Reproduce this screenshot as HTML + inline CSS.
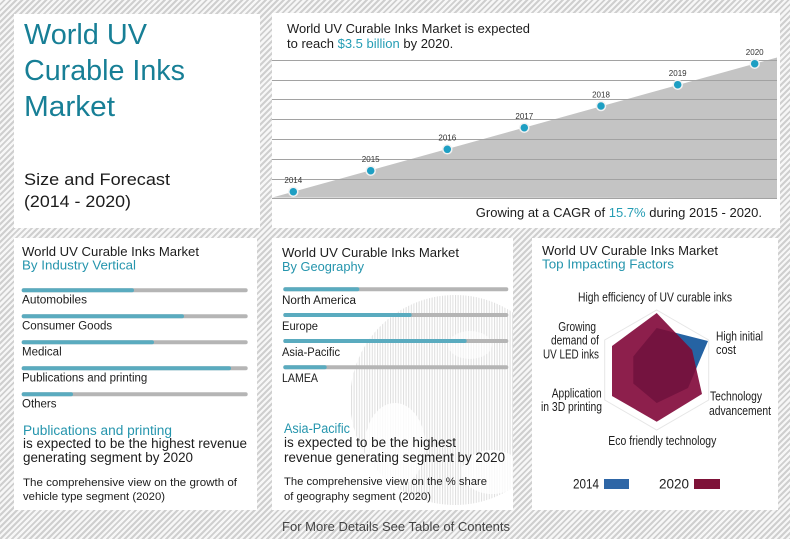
<!DOCTYPE html>
<html><head><meta charset="utf-8">
<style>
html,body{margin:0;padding:0;}
body{width:790px;height:539px;overflow:hidden;background:repeating-linear-gradient(135deg,#f7f7f7 0px,#f7f7f7 2.2px,#cfcfcf 2.2px,#cfcfcf 4.2px);}
svg{display:block;}
text{font-family:"Liberation Sans",sans-serif;}
</style></head>
<body>
<svg width="790" height="539" viewBox="0 0 790 539" xmlns="http://www.w3.org/2000/svg">
<defs>
  <pattern id="vstripe" width="2.6" height="10" patternUnits="userSpaceOnUse">
    <rect x="0" y="0" width="1" height="10" fill="#bdbdbd"/>
  </pattern>
  <clipPath id="p4clip"><rect x="272" y="238" width="241" height="272"/></clipPath>
  <clipPath id="redclip"><polygon points="656.7,313 692,350 702,394 656.7,421.7 612,396 612,346"/></clipPath>
</defs>

<!-- panels -->
<rect x="14" y="14" width="246" height="214" fill="#fff"/>
<rect x="272" y="13" width="508" height="215" fill="#fff"/>
<rect x="14" y="238" width="243" height="272" fill="#fff"/>
<rect x="272" y="238" width="241" height="272" fill="#fff"/>
<rect x="532" y="238" width="246" height="272" fill="#fff"/>

<!-- Panel 1 -->
<g fill="#177f96" font-size="29">
  <text x="24" y="44" textLength="123" lengthAdjust="spacingAndGlyphs">World UV</text>
  <text x="24" y="80" textLength="161" lengthAdjust="spacingAndGlyphs">Curable Inks</text>
  <text x="24" y="116" textLength="91" lengthAdjust="spacingAndGlyphs">Market</text>
</g>
<g fill="#1c1c1c" font-size="17">
  <text x="24" y="185" textLength="146" lengthAdjust="spacingAndGlyphs">Size and Forecast</text>
  <text x="24" y="207" textLength="107" lengthAdjust="spacingAndGlyphs">(2014 - 2020)</text>
</g>

<!-- Panel 2 chart -->
<polygon points="272,197.6 777,57.5 777,198" fill="#c4c4c4"/>
<g stroke="#a2a2a2" stroke-width="1">
  <line x1="272" y1="60.5" x2="777" y2="60.5"/>
  <line x1="272" y1="80.5" x2="777" y2="80.5"/>
  <line x1="272" y1="99.5" x2="777" y2="99.5"/>
  <line x1="272" y1="119.5" x2="777" y2="119.5"/>
  <line x1="272" y1="139.5" x2="777" y2="139.5"/>
  <line x1="272" y1="159.5" x2="777" y2="159.5"/>
  <line x1="272" y1="179.5" x2="777" y2="179.5"/>
  <line x1="272" y1="198.5" x2="777" y2="198.5"/>
</g>
<g fill="#1e9fc3" stroke="#f2f2f2" stroke-width="1.5">
  <circle cx="293.3" cy="191.7" r="4.5"/>
  <circle cx="370.7" cy="170.7" r="4.5"/>
  <circle cx="447.3" cy="149.3" r="4.5"/>
  <circle cx="524.3" cy="127.7" r="4.5"/>
  <circle cx="601" cy="106" r="4.5"/>
  <circle cx="677.7" cy="84.7" r="4.5"/>
  <circle cx="754.7" cy="63.7" r="4.5"/>
</g>
<g fill="#333" font-size="8" text-anchor="middle">
  <text x="293.3" y="183">2014</text>
  <text x="370.7" y="162">2015</text>
  <text x="447.3" y="140.5">2016</text>
  <text x="524.3" y="119">2017</text>
  <text x="601" y="97.5">2018</text>
  <text x="677.7" y="76">2019</text>
  <text x="754.7" y="55">2020</text>
</g>
<g font-size="13" fill="#1c1c1c">
  <text x="287" y="33" textLength="243" lengthAdjust="spacingAndGlyphs">World UV Curable Inks Market is expected</text>
  <text x="287" y="48">to reach <tspan fill="#259db4">$3.5 billion</tspan> by 2020.</text>
  <text x="762" y="217" text-anchor="end">Growing at a CAGR of <tspan fill="#259db4">15.7%</tspan> during 2015 - 2020.</text>
</g>

<!-- Panel 3 -->
<g font-size="13">
  <text x="22" y="256" fill="#1c1c1c" textLength="177" lengthAdjust="spacingAndGlyphs">World UV Curable Inks Market</text>
  <text x="22" y="269.5" fill="#2595ad" textLength="114" lengthAdjust="spacingAndGlyphs">By Industry Vertical</text>
</g>
<g>
  <rect x="21.7" y="288.3" width="226" height="4" rx="2" fill="#b5b5b5"/>
  <rect x="21.7" y="288.3" width="112.3" height="4" rx="2" fill="#5aabbf"/>
  <rect x="21.7" y="314.3" width="226" height="4" rx="2" fill="#b5b5b5"/>
  <rect x="21.7" y="314.3" width="162.3" height="4" rx="2" fill="#5aabbf"/>
  <rect x="21.7" y="340.3" width="226" height="4" rx="2" fill="#b5b5b5"/>
  <rect x="21.7" y="340.3" width="132.3" height="4" rx="2" fill="#5aabbf"/>
  <rect x="21.7" y="366.3" width="226" height="4" rx="2" fill="#b5b5b5"/>
  <rect x="21.7" y="366.3" width="209.3" height="4" rx="2" fill="#5aabbf"/>
  <rect x="21.7" y="392.3" width="226" height="4" rx="2" fill="#b5b5b5"/>
  <rect x="21.7" y="392.3" width="51.3" height="4" rx="2" fill="#5aabbf"/>
</g>
<g font-size="11.5" fill="#1c1c1c">
  <text x="22" y="303.5" textLength="65" lengthAdjust="spacingAndGlyphs">Automobiles</text>
  <text x="22" y="329.5">Consumer Goods</text>
  <text x="22" y="355.5">Medical</text>
  <text x="22" y="381.5">Publications and printing</text>
  <text x="22" y="407.5">Others</text>
</g>
<g font-size="13.5">
  <text x="23" y="435" fill="#2595ad" textLength="149" lengthAdjust="spacingAndGlyphs">Publications and printing</text>
  <text x="23" y="448" fill="#1c1c1c" textLength="224" lengthAdjust="spacingAndGlyphs">is expected to be the highest revenue</text>
  <text x="23" y="462" fill="#1c1c1c" textLength="170" lengthAdjust="spacingAndGlyphs">generating segment by 2020</text>
</g>
<g font-size="11" fill="#1c1c1c">
  <text x="23" y="486" textLength="214" lengthAdjust="spacingAndGlyphs">The comprehensive view on the growth of</text>
  <text x="23" y="500" textLength="142" lengthAdjust="spacingAndGlyphs">vehicle type segment (2020)</text>
</g>

<!-- Panel 4 globe -->
<g clip-path="url(#p4clip)" opacity="0.5">
  <circle cx="455" cy="400" r="105" fill="url(#vstripe)"/>
  <ellipse cx="395" cy="445" rx="30" ry="42" fill="#fff" opacity="0.85"/>
  <ellipse cx="492" cy="472" rx="30" ry="22" fill="#fff" opacity="0.8"/>
  <ellipse cx="470" cy="345" rx="22" ry="14" fill="#fff" opacity="0.6"/>
</g>
<g font-size="13">
  <text x="282" y="257" fill="#1c1c1c" textLength="177" lengthAdjust="spacingAndGlyphs">World UV Curable Inks Market</text>
  <text x="282" y="271" fill="#2595ad" textLength="82" lengthAdjust="spacingAndGlyphs">By Geography</text>
</g>
<g>
  <rect x="283.3" y="287.3" width="225" height="4" rx="2" fill="#b5b5b5"/>
  <rect x="283.3" y="287.3" width="76" height="4" rx="2" fill="#5aabbf"/>
  <rect x="283.3" y="313" width="225" height="4" rx="2" fill="#b5b5b5"/>
  <rect x="283.3" y="313" width="128.4" height="4" rx="2" fill="#5aabbf"/>
  <rect x="283.3" y="339" width="225" height="4" rx="2" fill="#b5b5b5"/>
  <rect x="283.3" y="339" width="183.4" height="4" rx="2" fill="#5aabbf"/>
  <rect x="283.3" y="365.3" width="225" height="4" rx="2" fill="#b5b5b5"/>
  <rect x="283.3" y="365.3" width="43.4" height="4" rx="2" fill="#5aabbf"/>
</g>
<g font-size="11.5" fill="#1c1c1c">
  <text x="282" y="304" textLength="74" lengthAdjust="spacingAndGlyphs">North America</text>
  <text x="282" y="330" textLength="36" lengthAdjust="spacingAndGlyphs">Europe</text>
  <text x="282" y="356" textLength="58" lengthAdjust="spacingAndGlyphs">Asia-Pacific</text>
  <text x="282" y="382" textLength="36" lengthAdjust="spacingAndGlyphs">LAMEA</text>
</g>
<g font-size="13.5">
  <text x="284" y="433" fill="#2595ad" textLength="66" lengthAdjust="spacingAndGlyphs">Asia-Pacific</text>
  <text x="284" y="447" fill="#1c1c1c" textLength="172" lengthAdjust="spacingAndGlyphs">is expected to be the highest</text>
  <text x="284" y="462" fill="#1c1c1c" textLength="221" lengthAdjust="spacingAndGlyphs">revenue generating segment by 2020</text>
</g>
<g font-size="11" fill="#1c1c1c">
  <text x="284" y="485" textLength="203" lengthAdjust="spacingAndGlyphs">The comprehensive view on the % share</text>
  <text x="284" y="500" textLength="147" lengthAdjust="spacingAndGlyphs">of geography segment (2020)</text>
</g>

<!-- Panel 5 -->
<g font-size="13">
  <text x="542" y="255" fill="#1c1c1c" textLength="176" lengthAdjust="spacingAndGlyphs">World UV Curable Inks Market</text>
  <text x="542" y="268.5" fill="#2595ad" textLength="132" lengthAdjust="spacingAndGlyphs">Top Impacting Factors</text>
</g>
<g fill="none" stroke="#e6e6e6" stroke-width="1">
  <polygon points="656.7,310 708.7,340 708.7,400 656.7,430 604.7,400 604.7,340"/>
  <polygon points="656.7,340 682.7,355 682.7,385 656.7,400 630.7,385 630.7,355"/>
</g>
<polygon points="656.7,328 708,341 688,388 656.7,403 633.3,383.5 633.3,356.5" fill="#2563a3"/>
<polygon points="656.7,313 692,350 702,394 656.7,421.7 612,396 612,346" fill="#8d1f4c"/>
<polygon points="656.7,328 708,341 688,388 656.7,403 633.3,383.5 633.3,356.5" fill="#74133f" clip-path="url(#redclip)"/>
<g font-size="12.5" fill="#1c1c1c">
  <text x="578" y="301.5" textLength="154" lengthAdjust="spacingAndGlyphs">High efficiency of UV curable inks</text>
  <text x="558.3" y="331" textLength="37.7" lengthAdjust="spacingAndGlyphs">Growing</text>
  <text x="551" y="344.5" textLength="48" lengthAdjust="spacingAndGlyphs">demand of</text>
  <text x="543" y="358.5" textLength="56" lengthAdjust="spacingAndGlyphs">UV LED inks</text>
  <text x="716" y="340.5" textLength="47" lengthAdjust="spacingAndGlyphs">High initial</text>
  <text x="716" y="354" textLength="20" lengthAdjust="spacingAndGlyphs">cost</text>
  <text x="551.7" y="397.5" textLength="50" lengthAdjust="spacingAndGlyphs">Application</text>
  <text x="541" y="411" textLength="61" lengthAdjust="spacingAndGlyphs">in 3D printing</text>
  <text x="710" y="400.5" textLength="52" lengthAdjust="spacingAndGlyphs">Technology</text>
  <text x="709" y="415" textLength="62" lengthAdjust="spacingAndGlyphs">advancement</text>
  <text x="608.3" y="445" textLength="108" lengthAdjust="spacingAndGlyphs">Eco friendly technology</text>
</g>
<g font-size="13.5" fill="#1c1c1c">
  <text x="573" y="488.5" textLength="26" lengthAdjust="spacingAndGlyphs">2014</text>
  <text x="659" y="488.5" textLength="30" lengthAdjust="spacingAndGlyphs">2020</text>
</g>
<rect x="604" y="479" width="25" height="10" fill="#2e66a6"/>
<rect x="694" y="479" width="26" height="10" fill="#7e1238"/>

<!-- Footer -->
<text x="282" y="531" font-size="12.5" fill="#444" textLength="228" lengthAdjust="spacingAndGlyphs">For More Details See Table of Contents</text>
</svg>
</body></html>
